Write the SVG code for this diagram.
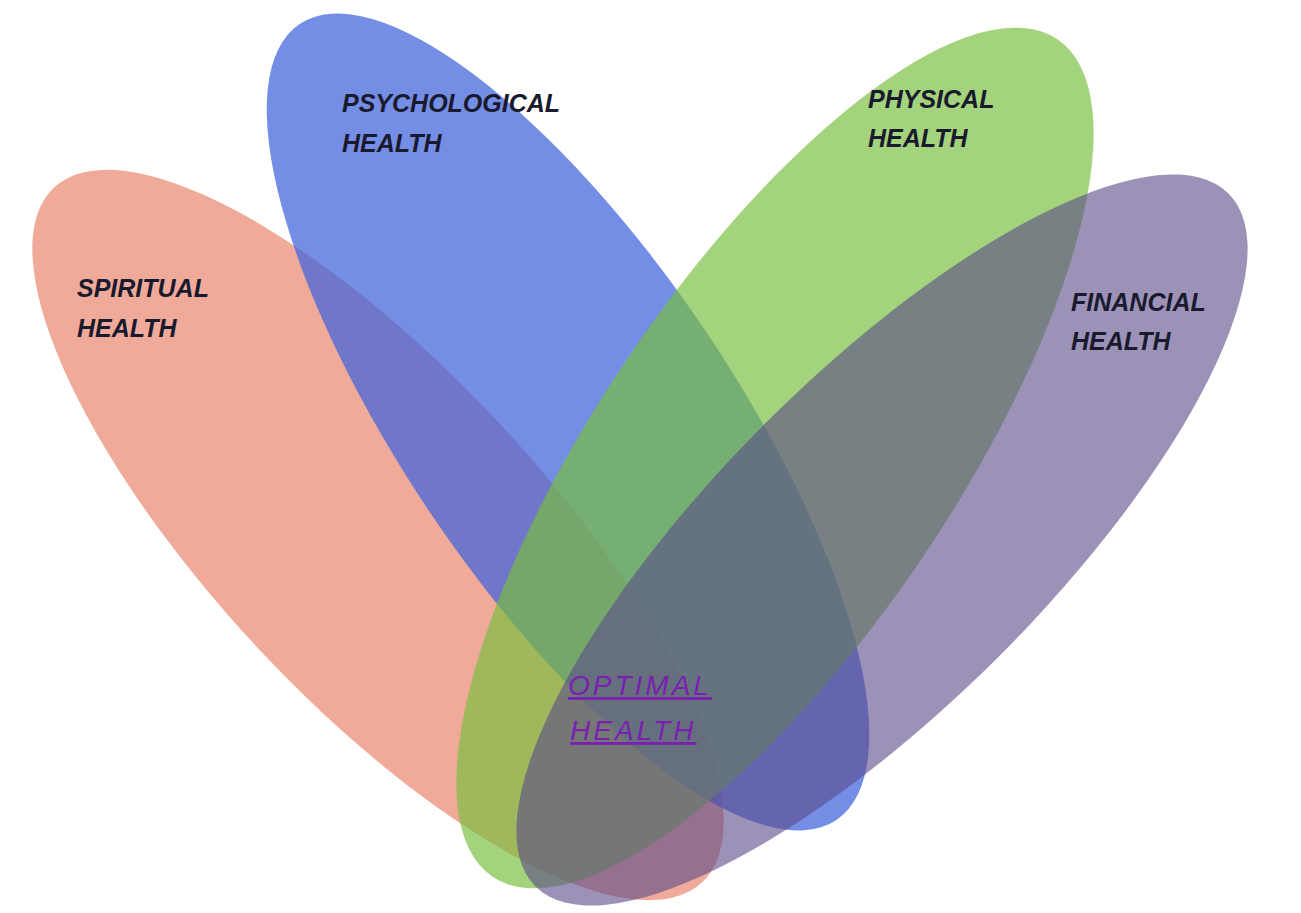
<svg xmlns="http://www.w3.org/2000/svg" width="1301" height="913" viewBox="0 0 1301 913">
<style>
.e{stroke:none}
.t{font-family:"Liberation Sans",Arial,sans-serif;font-weight:bold;font-style:italic;font-size:25px;fill:#1a1a2e}
.o{font-family:"Liberation Sans",Arial,sans-serif;font-style:italic;font-size:28px;fill:#7a1fb0;text-decoration:underline;letter-spacing:3px}
</style>
<rect width="1301" height="913" fill="#fff"/>
<g id="spiritual"><ellipse class="e" cx="378" cy="535" rx="475" ry="165" transform="rotate(47 378 535)" fill="#e8866f" fill-opacity="0.7"/><text class="t" x="77" y="297">SPIRITUAL</text><text class="t" x="77" y="337">HEALTH</text></g>
<g id="psychological"><ellipse class="e" cx="568" cy="422" rx="480" ry="165" transform="rotate(56 568 422)" fill="#3f63dc" fill-opacity="0.72"/><text class="t" x="342" y="112">PSYCHOLOGICAL</text><text class="t" x="342" y="152">HEALTH</text></g>
<g id="physical"><ellipse class="e" cx="775" cy="458" rx="505" ry="178" transform="rotate(-56 775 458)" fill="#78be3e" fill-opacity="0.68"/><text class="t" x="868" y="108">PHYSICAL</text><text class="t" x="868" y="147">HEALTH</text></g>
<g id="financial"><ellipse class="e" cx="882" cy="540" rx="490" ry="165" transform="rotate(-45 882 540)" fill="#5a4a88" fill-opacity="0.6"/><text class="t" x="1071" y="311">FINANCIAL</text><text class="t" x="1071" y="350">HEALTH</text></g>
<g id="optimal"><text class="o" x="568" y="695">OPTIMAL</text><text class="o" x="570" y="740">HEALTH</text></g>
<g id="connectors"/>
</svg>
